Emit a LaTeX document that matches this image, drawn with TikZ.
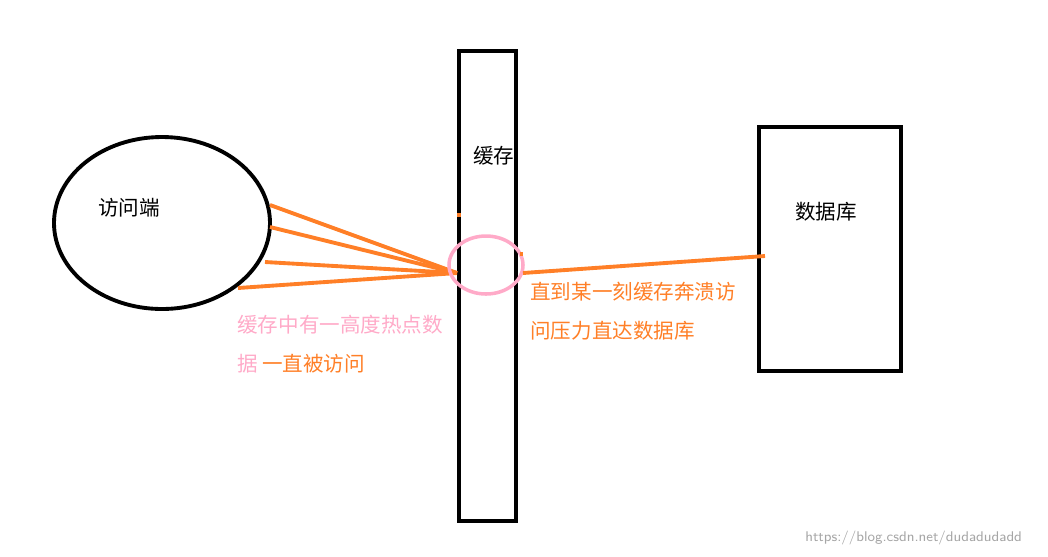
\documentclass[tikz,border=0pt]{standalone}
\usepackage{fontspec}
\setmainfont{Noto Sans CJK SC}
\usetikzlibrary{positioning}
\definecolor{hotorange}{RGB}{255,127,39}
\definecolor{hotpink}{RGB}{255,170,200}
\tikzset{
  box/.style={draw=black, line width=2.2pt},
  hit/.style={draw=hotorange, line width=2.2pt},
  lbl/.style={font=\fontsize{11.7}{14}\selectfont, anchor=west, inner sep=0pt}
}
\begin{document}
\begin{tikzpicture}[x=0.02cm, y=-0.02cm]
  \useasboundingbox (0,0) rectangle (1048,556);

  % client, cache and database
  \draw[box] (162,223) ellipse [x radius=108, y radius=86];
  \node[lbl] (client) at (98,208) {访问端};
  \draw[box] (459,51) rectangle (516,521);
  \node[lbl] (cache) at (473,156) {缓存};
  \draw[box] (759,127) rectangle (901,371);
  \node[lbl] (db) at (795,212) {数据库};

  % hot key requests
  \coordinate (hot) at (457,273);
  \foreach \y/\x in {205/270, 227/270, 262/265, 288/238}
    \draw[hit] (\x,\y) -- (hot);
  \draw[hotpink, line width=2pt] (486,265) ellipse [x radius=37, y radius=29];
  \draw[hit] (457,215) -- (461,215);
  \draw[hit] (520,254) -- (523,254);

  % cache failure
  \coordinate (miss) at (523,273);
  \coordinate (dbin) at (765,256);
  \draw[hit] (miss) -- (dbin);

  % Labels
  \node[lbl, text=hotpink] (hot1) at (237,325) {缓存中有一高度热点数};
  \node[lbl, text=hotpink] (hot2) at (237,364) {据};
  \node[lbl, text=hotorange, right=2pt of hot2] (hot3) {一直被访问};
  \node[lbl, text=hotorange] (fail1) at (530,292) {直到某一刻缓存奔溃访};
  \node[lbl, text=hotorange] (fail2) at (530,331) {问压力直达数据库};
  \node[lbl, text=black!35, font=\fontsize{8}{10}\selectfont\sffamily] (mark) at (805,538) {https://blog.csdn.net/dudadudadd};
\end{tikzpicture}
\end{document}
